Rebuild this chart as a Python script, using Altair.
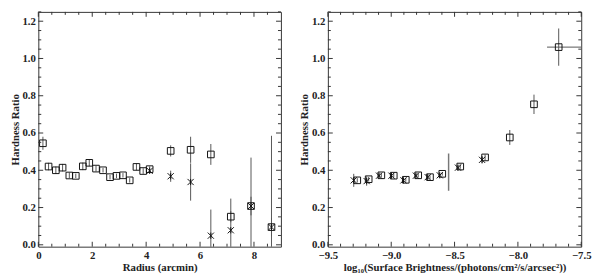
import altair as alt
import pandas as pd
import numpy as np

# ---------------- Left panel: hardness ratio vs radius ----------------
rad_sq = [0.17, 0.38, 0.65, 0.90, 1.15, 1.39, 1.65, 1.89, 2.14, 2.40, 2.66, 2.90,
          3.14, 3.39, 3.64, 3.89, 4.13, 4.91, 5.65, 6.40, 7.14, 7.89, 8.65]
hr_sq = [0.545, 0.420, 0.400, 0.414, 0.372, 0.370, 0.421, 0.440, 0.409, 0.400, 0.363, 0.370,
         0.373, 0.346, 0.418, 0.396, 0.406, 0.504, 0.510, 0.485, 0.151, 0.208, 0.095]
err_sq = [0.035, 0.020, 0.020, 0.020, 0.015, 0.012, 0.020, 0.018, 0.015, 0.012, 0.012, 0.012,
          0.012, 0.012, 0.018, 0.015, 0.015, 0.030, 0.070, 0.056, 0.030, 0.050, 0.050]

rad_x = [4.13, 4.91, 5.65, 6.40, 7.14, 7.89, 8.65]
hr_x = [0.397, 0.368, 0.337, 0.049, 0.078, 0.208, 0.095]
err_x = [0.010, 0.030, 0.100, 0.140, 0.170, 0.260, 0.490]

# ---------------- Right panel: hardness ratio vs surface brightness ----------------
sb_sq = [-9.268, -9.178, -9.078, -8.980, -8.885, -8.787, -8.694, -8.597, -8.455,
         -8.259, -8.064, -7.873, -7.678]
hr2_sq = [0.346, 0.352, 0.373, 0.371, 0.349, 0.373, 0.363, 0.381, 0.420,
          0.469, 0.576, 0.754, 1.061]
err2_sq = [0.012, 0.012, 0.010, 0.010, 0.010, 0.010, 0.010, 0.010, 0.012,
           0.015, 0.040, 0.052, 0.100]

sb_x = [-9.296, -9.194, -9.096, -8.998, -8.903, -8.805, -8.712, -8.617, -8.473, -8.283]
hr2_x = [0.346, 0.342, 0.371, 0.371, 0.346, 0.371, 0.363, 0.373, 0.414, 0.456]
err2_x = [0.035, 0.025, 0.010, 0.010, 0.010, 0.010, 0.010, 0.010, 0.012, 0.020]

# horizontal error of the brightest bin
hbar_y = [1.061]
hbar_lo = [-7.77]
hbar_hi = [-7.45]

# lone vertical error bar
lone_x = [-8.547]
lone_y = [0.39]
lone_err = [0.10]

# axis ticks
left_x_major = [0, 2, 4, 6, 8]
left_x_minor = [0.5, 1, 1.5, 2.5, 3, 3.5, 4.5, 5, 5.5, 6.5, 7, 7.5, 8.5]
right_x_major = [-9.5, -9.0, -8.5, -8.0, -7.5]
right_x_minor = [-9.4, -9.3, -9.2, -9.1, -8.9, -8.8, -8.7, -8.6, -8.4, -8.3, -8.2, -8.1,
                 -7.9, -7.8, -7.7, -7.6]
y_major = [0.0, 0.2, 0.4, 0.6, 0.8, 1.0, 1.2]
y_minor = [0.05, 0.1, 0.15, 0.25, 0.3, 0.35, 0.45, 0.5, 0.55, 0.65, 0.7, 0.75,
           0.85, 0.9, 0.95, 1.05, 1.1, 1.15, 1.25]

Y_DOMAIN = [-0.01, 1.25]
H = 240
FONT = "Liberation Serif"
BAR = "#555555"
INK = "#111111"
ASTER = "M-1,-1L1,1M-1,1L1,-1M0,-1L0,1"


def panel(W, xdom, xs, ys, es, xx, yx, ex, xmaj, xmin, xtitle, xfmt, extra=None):
    xsc = alt.Scale(domain=xdom, nice=False, zero=False)
    ysc = alt.Scale(domain=Y_DOMAIN, nice=False, zero=False)
    xax = alt.Axis(title=xtitle, values=xmaj, format=xfmt, ticks=False,
                   domain=False, grid=False, labelFlush=False,
                   labelPadding=3, titlePadding=1)
    yax = alt.Axis(title="Hardness Ratio", values=y_major, format=".1f",
                   ticks=False, domain=False, grid=False, labelPadding=3,
                   titlePadding=2)

    def X(f):
        return alt.X(f, scale=xsc, axis=xax)

    def Y(f):
        return alt.Y(f, scale=ysc, axis=yax)

    sq = pd.DataFrame({"x": xs, "y": ys, "e": es})
    ax = pd.DataFrame({"x": xx, "y": yx, "e": ex})

    def ebars(df):
        return alt.Chart(df).transform_calculate(
            lo="datum.y - datum.e", hi="datum.y + datum.e"
        ).mark_rule(color=BAR, strokeWidth=1, clip=True).encode(
            x=X("x:Q"), y=Y("lo:Q"), y2="hi:Q")

    layers = [ebars(sq), ebars(ax)]
    if extra is not None:
        layers += extra(X, Y)

    asters = alt.Chart(ax).mark_point(
        shape=ASTER, filled=False, size=40, color=INK, strokeWidth=1, opacity=1
    ).encode(x=X("x:Q"), y=Y("y:Q"))
    squares = alt.Chart(sq).mark_point(
        shape="square", filled=False, size=46, color=INK, strokeWidth=1, opacity=1
    ).encode(x=X("x:Q"), y=Y("y:Q"))
    layers += [asters, squares]

    # inward ticks on all four sides
    def xticks(vals, L):
        d = pd.DataFrame({"v": vals})
        b = alt.Chart(d).mark_rule(color="#333", strokeWidth=1).encode(
            x=X("v:Q"), y=alt.value(H), y2=alt.value(H - L))
        t = alt.Chart(d).mark_rule(color="#333", strokeWidth=1).encode(
            x=X("v:Q"), y=alt.value(0), y2=alt.value(L))
        return [b, t]

    def yticks(vals, L):
        d = pd.DataFrame({"v": vals})
        l = alt.Chart(d).mark_rule(color="#333", strokeWidth=1).encode(
            y=Y("v:Q"), x=alt.value(0), x2=alt.value(L))
        r = alt.Chart(d).mark_rule(color="#333", strokeWidth=1).encode(
            y=Y("v:Q"), x=alt.value(W), x2=alt.value(W - L))
        return [l, r]

    layers += xticks(xmaj, 5) + xticks(xmin, 3) + yticks(y_major, 5) + yticks(y_minor, 3)
    return alt.layer(*layers).properties(width=W, height=H)


def right_extra(X, Y):
    hb = pd.DataFrame({"lo": hbar_lo, "hi": hbar_hi, "y": hbar_y})
    h = alt.Chart(hb).mark_rule(color=BAR, strokeWidth=1, clip=True).encode(
        x=X("lo:Q"), x2="hi:Q", y=Y("y:Q"))
    lb = pd.DataFrame({"x": lone_x, "y": lone_y, "e": lone_err})
    v = alt.Chart(lb).transform_calculate(
        lo="datum.y - datum.e", hi="datum.y + datum.e"
    ).mark_rule(color="#777", strokeWidth=1.5).encode(
        x=X("x:Q"), y=Y("lo:Q"), y2="hi:Q")
    return [h, v]


left = panel(248, [0, 9], rad_sq, hr_sq, err_sq, rad_x, hr_x, err_x,
             left_x_major, left_x_minor, "Radius (arcmin)", "d")
right = panel(259, [-9.5, -7.5], sb_sq, hr2_sq, err2_sq, sb_x, hr2_x, err2_x,
              right_x_major, right_x_minor,
              "log\u2081\u2080(Surface Brightness/(photons/cm\u00b2/s/arcsec\u00b2))", ".1f",
              extra=right_extra)

chart = alt.hconcat(left, right, spacing=16).properties(
    padding={"left": 0, "top": 0, "right": 0, "bottom": 0},
    background="white",
).configure_view(stroke="#333", strokeWidth=1).configure_axis(
    labelFont=FONT, labelFontWeight="bold", labelFontSize=11, labelColor="#222",
    titleFont=FONT, titleFontWeight="bold", titleFontSize=11, titleColor="#222",
)

chart.save("out.html", embed_options={"renderer": "svg", "actions": False})
